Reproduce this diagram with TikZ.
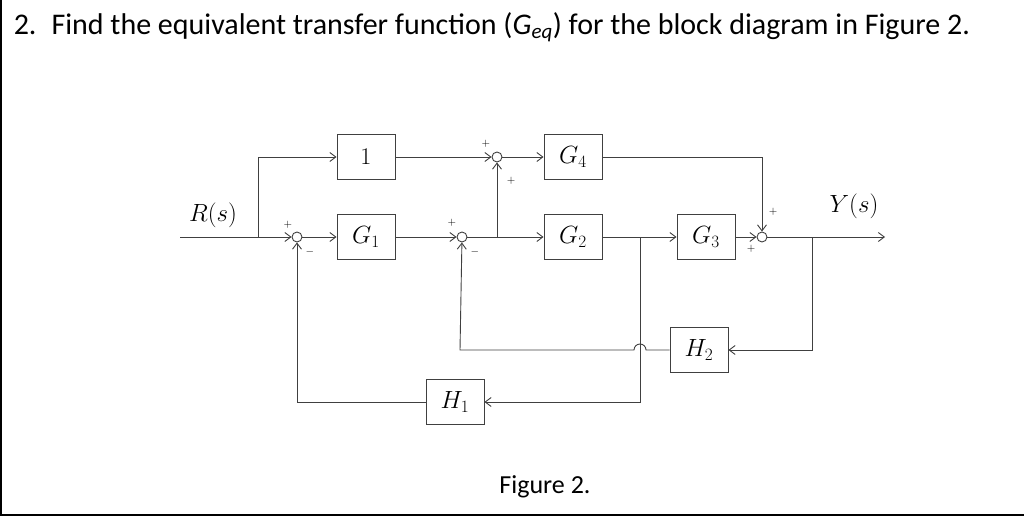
\documentclass[tikz,border=0pt]{standalone}
\usepackage{fontspec}
\newfontfamily\carl{Carlito}
\usetikzlibrary{arrows.meta}
\begin{document}
\begin{tikzpicture}[x=1pt,y=-1pt,line width=0.9pt,draw=black!75,
 blk/.style={draw,minimum width=58pt,minimum height=45pt,inner sep=0pt,font=\fontsize{24}{24}\selectfont},
 sm/.style={circle,draw,minimum size=10pt,inner sep=0pt},
 ar/.style={-{Straight Barb[length=6pt,width=9pt]}},
 sg/.style={font=\fontsize{11}{11}\selectfont,inner sep=1pt}]
\useasboundingbox (0,0) rectangle (1024,516);
\draw[black,line width=1.2pt] (1,0) -- (1,515) -- (1024,515);
\node[anchor=west,font=\carl\fontsize{30}{30}\selectfont] (title) at (10,27) {2.\enspace Find the equivalent transfer function (\textit{G\textsubscript{eq}}) for the block diagram in Figure 2.};
\node[font=\carl\fontsize{26}{26}\selectfont] (fig) at (545,487) {Figure 2.};
\node[font=\fontsize{24}{24}\selectfont] (R) at (213,215) {$R(s)$};
\node[font=\fontsize{24}{24}\selectfont] (Y) at (854,206) {$Y(s)$};
\coordinate (rin) at (180,237);
\coordinate (br) at (258,237);
\node[blk] (one) at (366,157) {1};
\node[blk] (G1) at (366,237) {$G_1$};
\node[blk] (G4) at (573,157) {$G_4$};
\node[blk] (G2) at (573,237) {$G_2$};
\node[blk] (G3) at (706,237) {$G_3$};
\node[blk] (H2) at (699,350) {$H_2$};
\node[blk] (H1) at (455,402) {$H_1$};
\node[sm] (s1) at (297,237) {};
\node[sm] (s2) at (462,237) {};
\node[sm] (s3) at (497,157) {};
\node[sm] (s4) at (762,237) {};
\coordinate (yout) at (885,237);
\coordinate (by) at (812,237);
\coordinate (b2) at (497,237);
\coordinate (bg) at (640,237);
\draw (rin) -- (br);
\draw[ar] (br) -- (s1);
\draw[ar] (br) |- (one);
\draw[ar] (s1) -- (G1);
\draw[ar] (G1) -- (s2);
\draw (s2) -- (b2);
\draw[ar] (b2) -- (G2);
\draw[ar] (b2) -- (s3);
\draw[ar] (one) -- (s3);
\draw[ar] (s3) -- (G4);
\draw (G2) -- (bg);
\draw[ar] (bg) -- (G3);
\draw[ar] (G3) -- (s4);
\draw[ar] (G4) -| (s4);
\draw[ar] (s4) -- (yout);
\draw[ar] (by) |- (H2);
\draw[ar] (bg) |- (H1);
\draw[ar] (H1) -| (s1);
\draw[ar] (H2.west) -- (646,350) arc (0:-180:6) -- (460,350) -- (s2);
\node[sg] at (288,225) {$+$};
\node[sg] at (310,252) {$-$};
\node[sg] at (452,223) {$+$};
\node[sg] at (475,252) {$-$};
\node[sg] at (486,144) {$+$};
\node[sg] at (511,181) {$+$};
\node[sg] at (773,212) {$+$};
\node[sg] at (751,249) {$+$};
\end{tikzpicture}
\end{document}
